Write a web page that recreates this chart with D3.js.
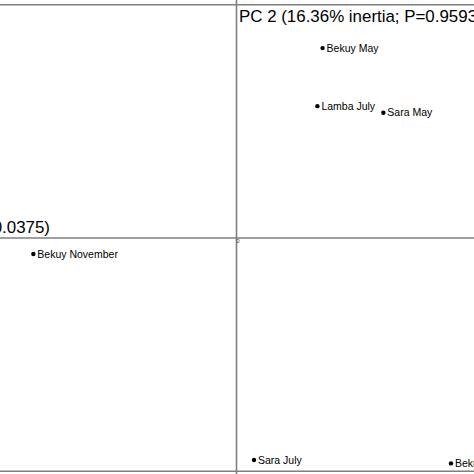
<!DOCTYPE html>
<html>
<head>
<meta charset="utf-8">
<script src="https://cdn.jsdelivr.net/npm/d3@7"></script>
<style>
  html, body { margin: 0; padding: 0; background: #fff; overflow: hidden; }
  text { font-family: "Liberation Sans", Arial, sans-serif; fill: #000; }
</style>
</head>
<body>
<svg id="chart" width="474" height="474"></svg>
<script>
// Sample scores on the first two principal components (arbitrary units)
const samples = ["Bekuy May", "Lamba July", "Sara May", "Bekuy November", "Sara July", "Bekuy July"];
const pc1 = [0.364, 0.342, 0.621, -0.859, 0.074, 0.907];
const pc2 = [0.798, 0.554, 0.526, -0.067, -0.933, -0.947];
const pc1Label = "PC 1 (23.52% inertia; P=0.0375)";
const pc2Label = "PC 2 (16.36% inertia; P=0.9593)";
const originLabel = "0";
const frameY = [-0.98, 0.98];

const W = 474, H = 474;
const svg = d3.select("#chart");
const x = d3.scaleLinear().domain([-1, 1]).range([0, 473]);
const y = d3.scaleLinear().domain([-1, 1]).range([476, 0]);

const lineColor = "#7f7f7f";

// frame top / bottom
svg.selectAll("line.frame").data(frameY).join("line")
  .attr("class", "frame")
  .attr("x1", 0).attr("x2", W)
  .attr("y1", d => y(d)).attr("y2", d => y(d))
  .attr("stroke", lineColor).attr("stroke-width", 1.6);

// axes through origin
svg.append("line")
  .attr("x1", 0).attr("x2", W)
  .attr("y1", y(0)).attr("y2", y(0))
  .attr("stroke", lineColor).attr("stroke-width", 1.6);
svg.append("line")
  .attr("x1", x(0)).attr("x2", x(0))
  .attr("y1", 0).attr("y2", H)
  .attr("stroke", lineColor).attr("stroke-width", 1.6);

svg.append("text")
  .attr("x", x(0) + 1.5).attr("y", y(0) + 5)
  .attr("text-anchor", "middle")
  .style("font-size", "6px")
  .style("fill", "#444")
  .text(originLabel);

// axis titles
svg.append("text")
  .attr("x", x(0) + 2.5).attr("y", 22)
  .style("font-size", "16.9px")
  .text(pc2Label);
svg.append("text")
  .attr("x", 50).attr("y", y(0) - 5)
  .attr("text-anchor", "end")
  .style("font-size", "16.9px")
  .text(pc1Label);

// points
const data = samples.map((s, i) => ({ name: s, a: pc1[i], b: pc2[i] }));
const g = svg.selectAll("g.pt").data(data).join("g")
  .attr("class", "pt")
  .attr("transform", d => `translate(${x(d.a)},${y(d.b)})`);
g.append("circle").attr("r", 2.2).attr("fill", "#000");
g.append("text")
  .attr("x", 4).attr("dy", "0.35em")
  .style("font-size", "10.5px")
  .text(d => d.name);
</script>
</body>
</html>
